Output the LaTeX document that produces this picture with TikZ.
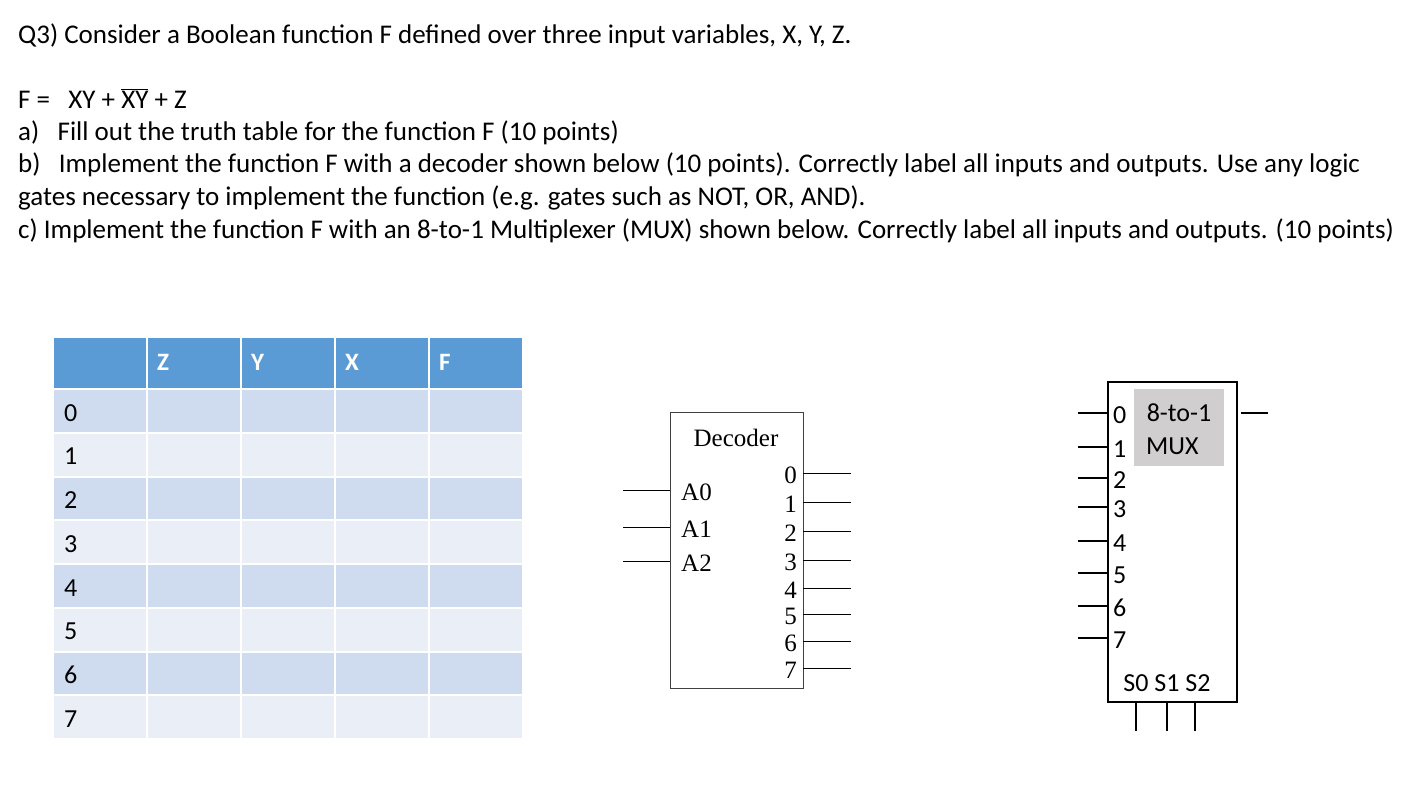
\documentclass[tikz,border=0pt]{standalone}
\usepackage{fontspec}
\setmainfont{Carlito}
\newfontfamily\tms{Liberation Serif}
\definecolor{hdr}{HTML}{5B9BD5}
\definecolor{rowa}{HTML}{CFDBEE}
\definecolor{rowb}{HTML}{E9EEF7}
\definecolor{gbox}{HTML}{D0CECE}
\begin{document}
\begin{tikzpicture}[x=1pt,y=-1pt,
  txt/.style={anchor=base west,inner sep=0,font=\fontsize{27}{30}\selectfont},
  cell/.style={draw=white,line width=2pt},
  dec/.style={font=\tms\fontsize{25}{28}\selectfont,inner sep=0},
  mx/.style={font=\fontsize{26}{28}\selectfont,inner sep=0},
  wire/.style={line width=0.8pt},
  twire/.style={line width=2.2pt}]
\useasboundingbox (0,0) rectangle (1419,787);
% text
\node[txt] (t1) at (18,43) {Q3) Consider a Boolean function F defined over three input variables, X, Y, Z.};
\node[txt] (t2) at (18,108) {F =~~~XY + $\overline{\mbox{X}}\overline{\mbox{Y}}$ + Z};
\node[txt] (t3) at (18,140) {a)~~ Fill out the truth table for the function F (10 points)};
\node[txt] (t4) at (18,172) {b)~~ Implement the function F with a decoder shown below (10 points). Correctly label all inputs and outputs. Use any logic};
\node[txt] (t5) at (18,205) {gates necessary to implement the function (e.g. gates such as NOT, OR, AND).};
\node[txt] (t6) at (18,238) {c) Implement the function F with an 8-to-1 Multiplexer (MUX) shown below. Correctly label all inputs and outputs. (10 points)};
% table
\foreach \c in {0,...,4}{
  \fill[hdr,cell] (53+94*\c,337) rectangle (147+94*\c,389);
  \foreach \r in {0,...,7}{
    \pgfmathsetmacro{\ya}{389+43.75*\r}
    \pgfmathtruncatemacro{\parity}{mod(\r,2)}
    \ifnum\parity=0 \fill[rowa,cell] (53+94*\c,\ya) rectangle (147+94*\c,\ya+43.75);
    \else \fill[rowb,cell] (53+94*\c,\ya) rectangle (147+94*\c,\ya+43.75);\fi
  }
}
\foreach \n/\l in {1/Z,2/Y,3/X,4/F}
  \node[txt,text=white,font=\bfseries\fontsize{25}{28}\selectfont] (h\n) at (157+94*\n-94,370) {\l};
\foreach \r in {0,...,7}
  \node[txt,font=\fontsize{26}{28}\selectfont] (r\r) at (64,421+43.75*\r) {\r};
% decoder
\node[draw=black!75,line width=0.8pt,minimum width=133pt,minimum height=276pt,inner sep=0] (dbox) at (736.5,550) {};
\node[dec] (dname) at (736,438) {Decoder};
\foreach \i/\y in {0/490,1/527,2/561}{
  \node[dec,anchor=west] (a\i) at (681,\y+2) {A\i};
  \coordinate (ai\i) at (623,\y);
  \draw[wire] (ai\i) -- (ai\i -| dbox.west);
}
\foreach \i/\y in {0/473,1/502,2/531,3/560,4/588,5/614,6/641,7/668}{
  \node[dec,anchor=east] (o\i) at (797,\y+2) {\i};
  \coordinate (oo\i) at (851,\y);
  \draw[wire] (oo\i -| dbox.east) -- (oo\i);
}
% mux
\node[draw,line width=2.8pt,minimum width=129pt,minimum height=320pt,inner sep=0] (mbox) at (1172.5,542) {};
\fill[gbox] (1134,389) rectangle (1224,466);
\node[mx] (m1) at (1179,413) {8-to-1};
\node[mx,anchor=west] (m2) at (1146,446) {MUX};
\foreach \i/\y in {0/413,1/447,2/478,3/507,4/541,5/573,6/606,7/638}{
  \node[mx,anchor=west] (mi\i) at (1113,\y+2) {\i};
  \coordinate (mc\i) at (1078,\y);
  \draw[twire] (mc\i) -- (mc\i -| mbox.west);
}
\coordinate (mout) at (1268,413);
\draw[twire] (mout -| mbox.east) ++(3,0) -- (mout);
\node[mx] (sel) at (1167,683) {S0 S1 S2};
\foreach \i/\x in {0/1136,1/1167,2/1195}{
  \coordinate (s\i) at (\x,731);
  \draw[twire] (s\i |- mbox.south) -- (s\i);
}
\end{tikzpicture}
\end{document}
